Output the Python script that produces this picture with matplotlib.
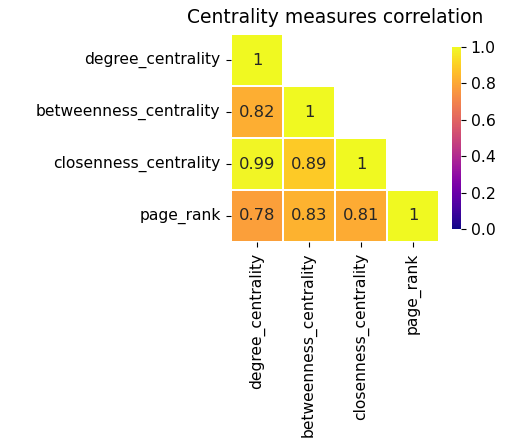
import numpy as np
import pandas as pd
import matplotlib
matplotlib.use("Agg")
import matplotlib.pyplot as plt
import seaborn as sns

labels = ["degree_centrality", "betweenness_centrality",
          "closenness_centrality", "page_rank"]
row_degree = [1.00, 0.82, 0.99, 0.78]
row_betweenness = [0.82, 1.00, 0.89, 0.83]
row_closeness = [0.99, 0.89, 1.00, 0.81]
row_pagerank = [0.78, 0.83, 0.81, 1.00]

corr = pd.DataFrame([row_degree, row_betweenness, row_closeness, row_pagerank],
                    index=labels, columns=labels)

# esconder triangulo superior (diagonal fica)
mask = np.triu(np.ones_like(corr, dtype=bool), k=1)

fig = plt.figure(figsize=(5.24, 4.48), dpi=100)
ax = fig.add_axes([231 / 524, 1 - 242 / 448, 208 / 524, 208 / 448])
cax = fig.add_axes([452 / 524, 1 - 229 / 448, 9 / 524, 182 / 448])

sns.heatmap(corr, mask=mask, cmap="plasma", vmin=0, vmax=1, annot=True,
            linewidths=1.2, linecolor="white", square=True, ax=ax, cbar_ax=cax,
            annot_kws={"fontsize": 11.8})

ax.set_title("Centrality measures correlation", fontsize=13.5, pad=8)
ax.tick_params(labelsize=11.2, pad=4)
cax.tick_params(labelsize=11.3)
cax.set_yticks([0.0, 0.2, 0.4, 0.6, 0.8, 1.0])
cax.set_yticklabels(["0.0", "0.2", "0.4", "0.6", "0.8", "1.0"])
for sp in cax.spines.values():
    sp.set_visible(False)

fig.savefig("out.png", dpi=100)
